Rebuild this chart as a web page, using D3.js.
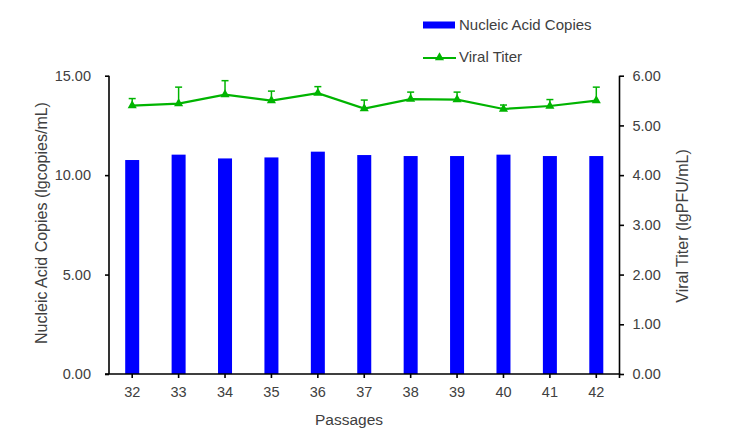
<!DOCTYPE html>
<html>
<head>
<meta charset="utf-8">
<script src="https://cdn.jsdelivr.net/npm/d3@7"></script>
<style>
  body { margin: 0; background: #fff; }
  text { font-family: "Liberation Sans", Arial, sans-serif; fill: #404040; }
</style>
</head>
<body>
<div id="chart"></div>
<script>
let passages = ['32', '33', '34', '35', '36', '37', '38', '39', '40', '41', '42']
let copies = [10.76, 11.03, 10.84, 10.89, 11.18, 11.01, 10.96, 10.96, 11.03, 10.96, 10.96]
let titer = [5.40, 5.44, 5.62, 5.50, 5.65, 5.34, 5.53, 5.52, 5.33, 5.39, 5.50]
let titerErr = [0.14, 0.33, 0.28, 0.19, 0.13, 0.17, 0.14, 0.15, 0.08, 0.13, 0.27]
let leftTicks = [0, 5, 10, 15]
let rightTicks = [0, 1, 2, 3, 4, 5, 6]

let width = 733
let height = 439
let plotLeft = 109
let plotRight = 619.5
let plotTop = 75.7
let plotBottom = 374

let blue = '#0000ff'
let green = '#00b400'

let svg = d3.select('#chart').append('svg')
  .attr('width', width)
  .attr('height', height)

let x = d3.scaleBand().domain(passages).range([plotLeft, plotRight])
let yL = d3.scaleLinear().domain([0, 15]).range([plotBottom, plotTop])
let yR = d3.scaleLinear().domain([0, 6]).range([plotBottom, plotTop])

// bars
let barW = 14
svg.selectAll('rect.bar')
  .data(copies)
  .enter().append('rect')
  .attr('class', 'bar')
  .attr('x', (d, i) => x(passages[i]) + x.bandwidth() / 2 - barW / 2)
  .attr('width', barW)
  .attr('y', d => yL(d))
  .attr('height', d => plotBottom - yL(d))
  .attr('fill', blue)

// axes
let axL = d3.axisLeft(yL).tickValues(leftTicks).tickFormat(d3.format('.2f')).tickSize(4).tickPadding(14)
let axR = d3.axisRight(yR).tickValues(rightTicks).tickFormat(d3.format('.2f')).tickSize(4.5).tickPadding(8.5)
let axB = d3.axisBottom(x).tickSize(4).tickPadding(9)

let gL = svg.append('g').attr('transform', 'translate(' + plotLeft + ',0)').call(axL)
let gR = svg.append('g').attr('transform', 'translate(' + plotRight + ',0)').call(axR)
let gB = svg.append('g').attr('transform', 'translate(0,' + plotBottom + ')').call(axB)

;[gL, gR, gB].forEach(g => {
  g.select('.domain').attr('stroke', '#000').attr('stroke-width', 1.6)
  g.selectAll('.tick line').attr('stroke', '#000').attr('stroke-width', 1.6)
  g.selectAll('.tick text').attr('font-size', 14.5).attr('fill', '#404040')
    .attr('font-family', '"Liberation Sans", Arial, sans-serif')
})
gB.select('.domain').attr('d', 'M' + (plotLeft - 4) + ',0H' + plotRight + 'V4')
gL.select('.domain').attr('d', 'M0,' + plotTop + 'V' + plotBottom)
gR.select('.domain').attr('d', 'M0,' + plotTop + 'V' + plotBottom)

// error bars (plus only)
let cx = (i) => x(passages[i]) + x.bandwidth() / 2
let errs = svg.append('g').attr('stroke', green).attr('stroke-width', 1.5)
titer.forEach((v, i) => {
  errs.append('line')
    .attr('x1', cx(i)).attr('x2', cx(i))
    .attr('y1', yR(v)).attr('y2', yR(v + titerErr[i]))
  errs.append('line')
    .attr('x1', cx(i) - 3.5).attr('x2', cx(i) + 3.5)
    .attr('y1', yR(v + titerErr[i])).attr('y2', yR(v + titerErr[i]))
})

// line
let line = d3.line().x((d, i) => cx(i)).y(d => yR(d))
svg.append('path')
  .datum(titer)
  .attr('d', line)
  .attr('fill', 'none')
  .attr('stroke', green)
  .attr('stroke-width', 2.2)

let tri = d3.symbol().type(d3.symbolTriangle).size(36)
svg.selectAll('path.mark')
  .data(titer)
  .enter().append('path')
  .attr('class', 'mark')
  .attr('d', tri)
  .attr('transform', (d, i) => 'translate(' + cx(i) + ',' + yR(d) + ')')
  .attr('fill', green)

// axis titles
svg.append('text')
  .attr('text-anchor', 'middle')
  .attr('font-size', 16)
  .attr('transform', 'translate(46.5,223)rotate(-90)')
  .text('Nucleic Acid Copies (lgcopies/mL)')
svg.append('text')
  .attr('text-anchor', 'middle')
  .attr('font-size', 16)
  .attr('transform', 'translate(688,226)rotate(-90)')
  .text('Viral Titer (lgPFU/mL)')
svg.append('text')
  .attr('text-anchor', 'middle')
  .attr('font-size', 15.5)
  .attr('x', 349)
  .attr('y', 425)
  .text('Passages')

// legend
let lg = svg.append('g')
lg.append('rect')
  .attr('x', 423).attr('y', 21.5).attr('width', 32).attr('height', 7)
  .attr('fill', blue)
lg.append('text')
  .attr('x', 459).attr('y', 30).attr('font-size', 15)
  .text('Nucleic Acid Copies')
lg.append('line')
  .attr('x1', 423).attr('x2', 456).attr('y1', 58).attr('y2', 58)
  .attr('stroke', green).attr('stroke-width', 2)
lg.append('path')
  .attr('d', tri)
  .attr('transform', 'translate(439.5,57.5)')
  .attr('fill', green)
lg.append('text')
  .attr('x', 459).attr('y', 62).attr('font-size', 15)
  .text('Viral Titer')
</script>
</body>
</html>
